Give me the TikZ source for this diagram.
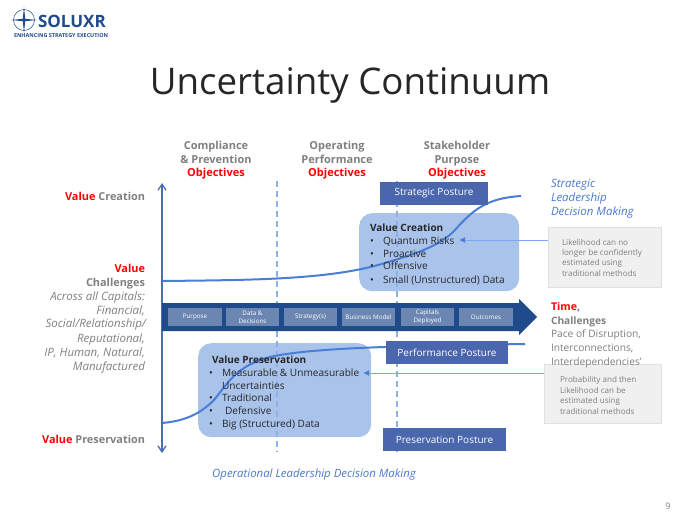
\documentclass[tikz,border=0pt]{standalone}
\usepackage{fontspec}
\setmainfont{Open Sans}
\usetikzlibrary{arrows.meta}
\definecolor{axisc}{HTML}{4A6DB8}
\definecolor{postc}{HTML}{4A66AC}
\definecolor{bigc}{HTML}{1F4A8C}
\definecolor{innerc}{HTML}{6C86B2}
\definecolor{valc}{HTML}{A9C3EB}
\definecolor{dashc}{HTML}{8FB0E4}
\definecolor{curvec}{HTML}{4A7DD6}
\definecolor{itac}{HTML}{4A78CC}
\definecolor{greyt}{HTML}{7F7F7F}
\definecolor{boxg}{HTML}{F0F0F0}
\definecolor{boxe}{HTML}{E0E0E0}
\definecolor{logoc}{HTML}{1F4A8C}
\definecolor{darkt}{HTML}{262626}
\definecolor{connc}{HTML}{7DA7F2}
\newcommand{\fs}[1]{\fontsize{#1pt}{#1pt}\selectfont}
\newcommand{\rd}[1]{\textcolor{red}{#1}}
\tikzset{
  x=1pt,y=-1pt,
  lbl/.style={inner sep=0pt,outer sep=0pt,anchor=base},
  lblr/.style={lbl,anchor=base east},
  lbll/.style={lbl,anchor=base west},
  head/.style={lbl,font=\fs{11}\bfseries,text=greyt},
  side/.style={lblr,font=\fs{10.9}\bfseries,text=greyt},
  sideit/.style={lblr,font=\fs{11.5}\itshape,text=greyt},
  rside/.style={lbll,font=\fs{10.2},text=greyt},
  ital/.style={lbll,font=\fs{11.5}\itshape,text=itac},
  postbox/.style={draw=none,fill=postc,text=white,font=\fs{10},inner sep=0pt,anchor=center},
  stagebox/.style={fill=innerc,text=white,font=\fs{6.3},align=center,inner sep=0pt,minimum width=53.5pt,minimum height=18pt,anchor=center},
  valbox/.style={fill=valc,rounded corners=13pt,inner sep=0pt,anchor=north west},
  notebox/.style={fill=boxg,draw=boxe,line width=0.7pt,inner sep=0pt,anchor=north west},
  notet/.style={lbll,font=\fs{8.1},text=greyt},
  vt/.style={lbll,font=\fs{10.1},text=darkt},
  dashline/.style={draw=dashc,line width=1.2pt,dash pattern=on 6pt off 4pt},
  curve/.style={draw=curvec,line width=2pt},
  conn/.style={draw=connc,line width=1pt,-{Latex[length=6pt,width=6pt,color=curvec]}},
}
\begin{document}
\begin{tikzpicture}
\useasboundingbox (0,0) rectangle (700,525);
% logo
\coordinate (lc) at (24,20);
\draw[logoc,line width=0.5pt] (lc) circle (10.5pt);
\fill[logoc] (24,7) -- (25.2,18.8) -- (37,20) -- (25.2,21.2) -- (24,33) -- (22.8,21.2) -- (11,20) -- (22.8,18.8) -- cycle;
\node[lbll,font=\fs{17}\bfseries,text=logoc] (logo) at (38,27) {SOLUXR};
\node[lbll,font=\fs{5.45}\bfseries,text=logoc] (tag) at (14,37) {ENHANCING STRATEGY EXECUTION};
% title
\node[lbl,font=\fs{36.7},text=darkt] (title) at (350,94) {Uncertainty Continuum};
% column heads
\node[head] (h1a) at (216,149) {Compliance};
\node[head] (h1b) at (216,163) {\&~Prevention};
\node[head,text=red] (h1c) at (216,176) {Objectives};
\node[head] (h2a) at (337,149) {Operating};
\node[head] (h2b) at (337,163) {Performance};
\node[head,text=red] (h2c) at (337,176) {Objectives};
\node[head] (h3a) at (457,149) {Stakeholder};
\node[head] (h3b) at (457,163) {Purpose};
\node[head,text=red] (h3c) at (457,176) {Objectives};
% value boxes
\node[valbox,minimum width=160pt,minimum height=78pt] (vc) at (359,213) {};
\node[valbox,minimum width=173pt,minimum height=94pt] (vp) at (198,343) {};
% dashed lines
\coordinate (d1t) at (277,181); \coordinate (d1b) at (277,452);
\coordinate (d2t) at (397,181); \coordinate (d2b) at (397,452);
\draw[dashline] (d1t) -- (d1b);
\draw[dashline] (d2t) -- (d2b);
% curves
\coordinate (c1s) at (162,281); \coordinate (c1e) at (521,196);
\coordinate (c2s) at (162,423); \coordinate (c2e) at (525,344);
\draw[curve] (c1s) .. controls (250,280) and (330,280) .. (385,263)
  .. controls (415,254) and (440,246) .. (455,230)
  .. controls (475,207) and (490,198) .. (c1e);
\draw[curve] (c2s) .. controls (185,421) and (200,414) .. (214,400)
  .. controls (228,383) and (236,366) .. (270,357)
  .. controls (310,348) and (390,346) .. (c2e);
% posture boxes
\node[postbox,minimum width=108pt,minimum height=23pt] (sp) at (434,193.5) {Strategic Posture};
\node[postbox,minimum width=122pt,minimum height=23pt] (pp) at (447,352.5) {Performance Posture};
\node[postbox,minimum width=123pt,minimum height=23pt] (prp) at (444.5,439.5) {Preservation Posture};
% axis
\coordinate (at) at (162,183); \coordinate (ab) at (162,453);
\draw[axisc,line width=1.3pt,{Straight Barb[length=6pt,width=8pt]}-{Straight Barb[length=6pt,width=8pt]}] (at) -- (ab);
% big arrow
\fill[bigc] (162,303) -- (519,303) -- (519,299) -- (537,317) -- (519,335) -- (519,331) -- (162,331) -- cycle;
\node[stagebox] (s1) at (195,317) {Purpose};
\node[stagebox] (s2) at (252.5,317) {Data \&\\[1.6pt]Decisions};
\node[stagebox] (s3) at (310.5,317) {Strategy(s)};
\node[stagebox] (s4) at (368.5,317) {Business Model};
\node[stagebox] (s5) at (427.5,317) {Capitals\\[1.6pt]Deployed};
\node[stagebox] (s6) at (486,317) {Outcomes};
% value creation text
\node[vt,font=\fs{10}\bfseries] (vct) at (370,231) {Value Creation};
\node[vt] (b1) at (370,244) {•}; \node[vt] (vc1) at (383,244) {Quantum Risks};
\node[vt] (b2) at (370,257) {•}; \node[vt] (vc2) at (383,257) {Proactive};
\node[vt] (b3) at (370,269) {•}; \node[vt] (vc3) at (383,269) {Offensive};
\node[vt] (b4) at (370,283) {•}; \node[vt] (vc4) at (383,283) {Small (Unstructured) Data};
% value preservation text
\node[vt,font=\fs{10}\bfseries] (vpt) at (212,363) {Value Preservation};
\node[vt] (p1) at (209,376) {•}; \node[vt] (vp1) at (222,376) {Measurable \& Unmeasurable};
\node[vt] (vp1b) at (222,389) {Uncertainties};
\node[vt] (p2) at (209,401) {•}; \node[vt] (vp2) at (222,401) {Traditional};
\node[vt] (p3) at (209,414) {•}; \node[vt] (vp3) at (225,414) {Defensive};
\node[vt] (p4) at (209,427) {•}; \node[vt] (vp4) at (222,427) {Big (Structured) Data};
% left labels
\node[side] (l1) at (145,200) {\rd{Value} Creation};
\node[side,text=red] (l2) at (145,272) {Value};
\node[side] (l3) at (145,286) {Challenges};
\node[sideit] (l4) at (145,300) {Across all Capitals:};
\node[sideit] (l5) at (145,314) {Financial,};
\node[sideit] (l6) at (146,327) {Social/Relationship/};
\node[sideit] (l7) at (145,342) {Reputational,};
\node[sideit] (l8) at (145,356) {IP, Human, Natural,};
\node[sideit] (l9) at (145,370) {Manufactured};
\node[side] (l10) at (145,443) {\rd{Value} Preservation};
% note boxes
\node[notebox,minimum width=113pt,minimum height=60pt] (g1) at (548,227) {};
\node[notebox,minimum width=117pt,minimum height=59pt] (g2) at (544,364) {};
\node[notet] (g1a) at (562,245) {Likelihood can no};
\node[notet] (g1b) at (562,255) {longer be confidently};
\node[notet] (g1c) at (562,265) {estimated using};
\node[notet] (g1d) at (562,276) {traditional methods};
\node[notet] (g2a) at (560,382) {Probability and then};
\node[notet] (g2b) at (560,393) {Likelihood can be};
\node[notet] (g2c) at (560,403) {estimated using};
\node[notet] (g2d) at (560,414) {traditional methods};
% right labels
\node[ital] (r1) at (551,187) {Strategic};
\node[ital] (r2) at (551,201) {Leadership};
\node[ital] (r3) at (551,215) {Decision Making};
\node[rside,font=\fs{10.6}\bfseries] (t1) at (551,310) {\rd{Time}\textcolor{itac}{,}};
\node[rside,font=\fs{10.2}\bfseries] (t2) at (551,324) {Challenges};
\node[rside] (t3) at (551,337) {Pace of Disruption,};
\node[rside] (t4) at (551,351) {Interconnections,};
\node[rside] (t5) at (551,365) {Interdependencies'};
% connectors
\coordinate (a1e) at (459,240);
\coordinate (a2e) at (363,373);
\draw[conn] (g1.west |- a1e) -- (a1e);
\draw[conn] (g2.west |- a2e) -- (a2e);
% bottom
\node[lbl,font=\fs{11.4}\itshape,text=itac] (op) at (314,477) {Operational Leadership Decision Making};
\node[lbl,font=\fs{9},text=greyt] (pg) at (668,509) {9};
\end{tikzpicture}
\end{document}
